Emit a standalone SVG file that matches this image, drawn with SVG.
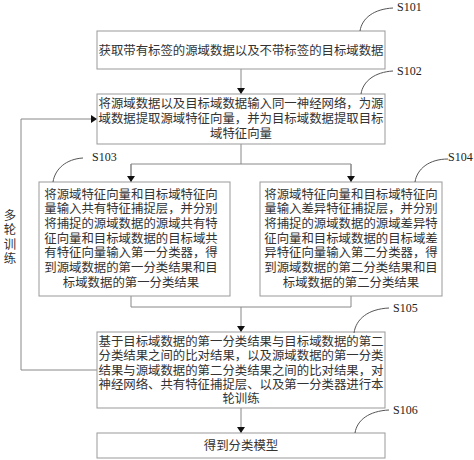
<svg xmlns="http://www.w3.org/2000/svg" width="474" height="460" viewBox="0 0 474 460">
<defs>
<marker id="ah" markerWidth="6" markerHeight="8" refX="6" refY="4" orient="auto" markerUnits="userSpaceOnUse">
<path d="M0,0 L6,4 L0,8 Z" fill="#111"/>
</marker>
<style>
.box{fill:#fff;stroke:#999;stroke-width:1}
.t{font-family:"Noto Sans CJK SC","Noto Sans",sans-serif;font-size:12.4px;fill:#333;text-anchor:middle}
.lbl{font-family:"Liberation Serif","DejaVu Serif",serif;font-size:12px;fill:#222}
.c{fill:none;stroke:#888;stroke-width:1}
.cv{fill:none;stroke:#555;stroke-width:1}
</style>
</defs>
<rect width="474" height="460" fill="#fff"/>
<g id="connectors">
<line class="c" x1="241" y1="69" x2="241" y2="94" marker-end="url(#ah)"/>
<polyline class="c" points="241,144 241,164"/>
<polyline class="c" points="131,182 131,164 351,164 351,182"/>
<line class="c" x1="131" y1="164" x2="131" y2="182" marker-end="url(#ah)"/>
<line class="c" x1="351" y1="164" x2="351" y2="182" marker-end="url(#ah)"/>
<polyline class="c" points="131,296 131,307 351,307 351,296"/>
<line class="c" x1="241" y1="307" x2="241" y2="332" marker-end="url(#ah)"/>
<line class="c" x1="241" y1="408" x2="241" y2="433" marker-end="url(#ah)"/>
<polyline class="c" points="97,370 21,370 21,119 97,119" marker-end="url(#ah)"/>
</g>
<g id="loop-label">
<text class="t" x="10" y="219.5">多</text>
<text class="t" x="10" y="234">轮</text>
<text class="t" x="10" y="248.5">训</text>
<text class="t" x="10" y="263">练</text>
</g>
<g id="S101">
<rect class="box" x="97" y="31" width="288" height="38"/>
<text class="t" x="241" y="54.5">获取带有标签的源域数据以及不带标签的目标域数据</text>
<path class="cv" d="M360,31 C362,18 374,9 393,8"/>
<text class="lbl" x="397" y="11">S101</text>
</g>
<g id="S102">
<rect class="box" x="97" y="94" width="288" height="50"/>
<text class="t" x="241" y="107.5">将源域数据以及目标域数据输入同一神经网络，为源</text>
<text class="t" x="241" y="122.5">域数据提取源域特征向量，并为目标域数据提取目标</text>
<text class="t" x="241" y="137.5">域特征向量</text>
<path class="cv" d="M361,94 C363,81 375,72 393,71"/>
<text class="lbl" x="397" y="75">S102</text>
</g>
<g id="S103">
<rect class="box" x="39" y="182" width="191" height="114"/>
<text class="t" x="131" y="198.5">将源域特征向量和目标域特征向</text>
<text class="t" x="131" y="213.2">量输入共有特征捕捉层，并分别</text>
<text class="t" x="131" y="227.9">将捕捉的源域数据的源域共有特</text>
<text class="t" x="131" y="242.6">征向量和目标域数据的目标域共</text>
<text class="t" x="131" y="257.3">有特征向量输入第一分类器，得</text>
<text class="t" x="131" y="272">到源域数据的第一分类结果和目</text>
<text class="t" x="131" y="286.7">标域数据的第一分类结果</text>
<path class="cv" d="M53,182 C55,169 66,159 83,158"/>
<text class="lbl" x="92" y="161">S103</text>
</g>
<g id="S104">
<rect class="box" x="260" y="182" width="182" height="114"/>
<text class="t" x="351" y="198.5">将源域特征向量和目标域特征向</text>
<text class="t" x="351" y="213.2">量输入差异特征捕捉层，并分别</text>
<text class="t" x="351" y="227.9">将捕捉的源域数据的源域差异特</text>
<text class="t" x="351" y="242.6">征向量和目标域数据的目标域差</text>
<text class="t" x="351" y="257.3">异特征向量输入第二分类器，得</text>
<text class="t" x="351" y="272">到源域数据的第二分类结果和目</text>
<text class="t" x="351" y="286.7">标域数据的第二分类结果</text>
<path class="cv" d="M415,182 C417,169 429,159 448,159"/>
<text class="lbl" x="448" y="161">S104</text>
</g>
<g id="S105">
<rect class="box" x="97" y="332" width="288" height="76"/>
<text class="t" x="241" y="346.2">基于目标域数据的第一分类结果与目标域数据的第二</text>
<text class="t" x="241" y="360.4">分类结果之间的比对结果，以及源域数据的第一分类</text>
<text class="t" x="241" y="374.6">结果与源域数据的第二分类结果之间的比对结果，对</text>
<text class="t" x="241" y="388.8">神经网络、共有特征捕捉层、以及第一分类器进行本</text>
<text class="t" x="241" y="403">轮训练</text>
<path class="cv" d="M354,333 C356,319 368,309 389,308"/>
<text class="lbl" x="393" y="312">S105</text>
</g>
<g id="S106">
<rect class="box" x="97" y="433" width="288" height="25"/>
<text class="t" x="241" y="449.5">得到分类模型</text>
<path class="cv" d="M355,433 C357,420 369,411 389,410"/>
<text class="lbl" x="393" y="414">S106</text>
</g>
</svg>
